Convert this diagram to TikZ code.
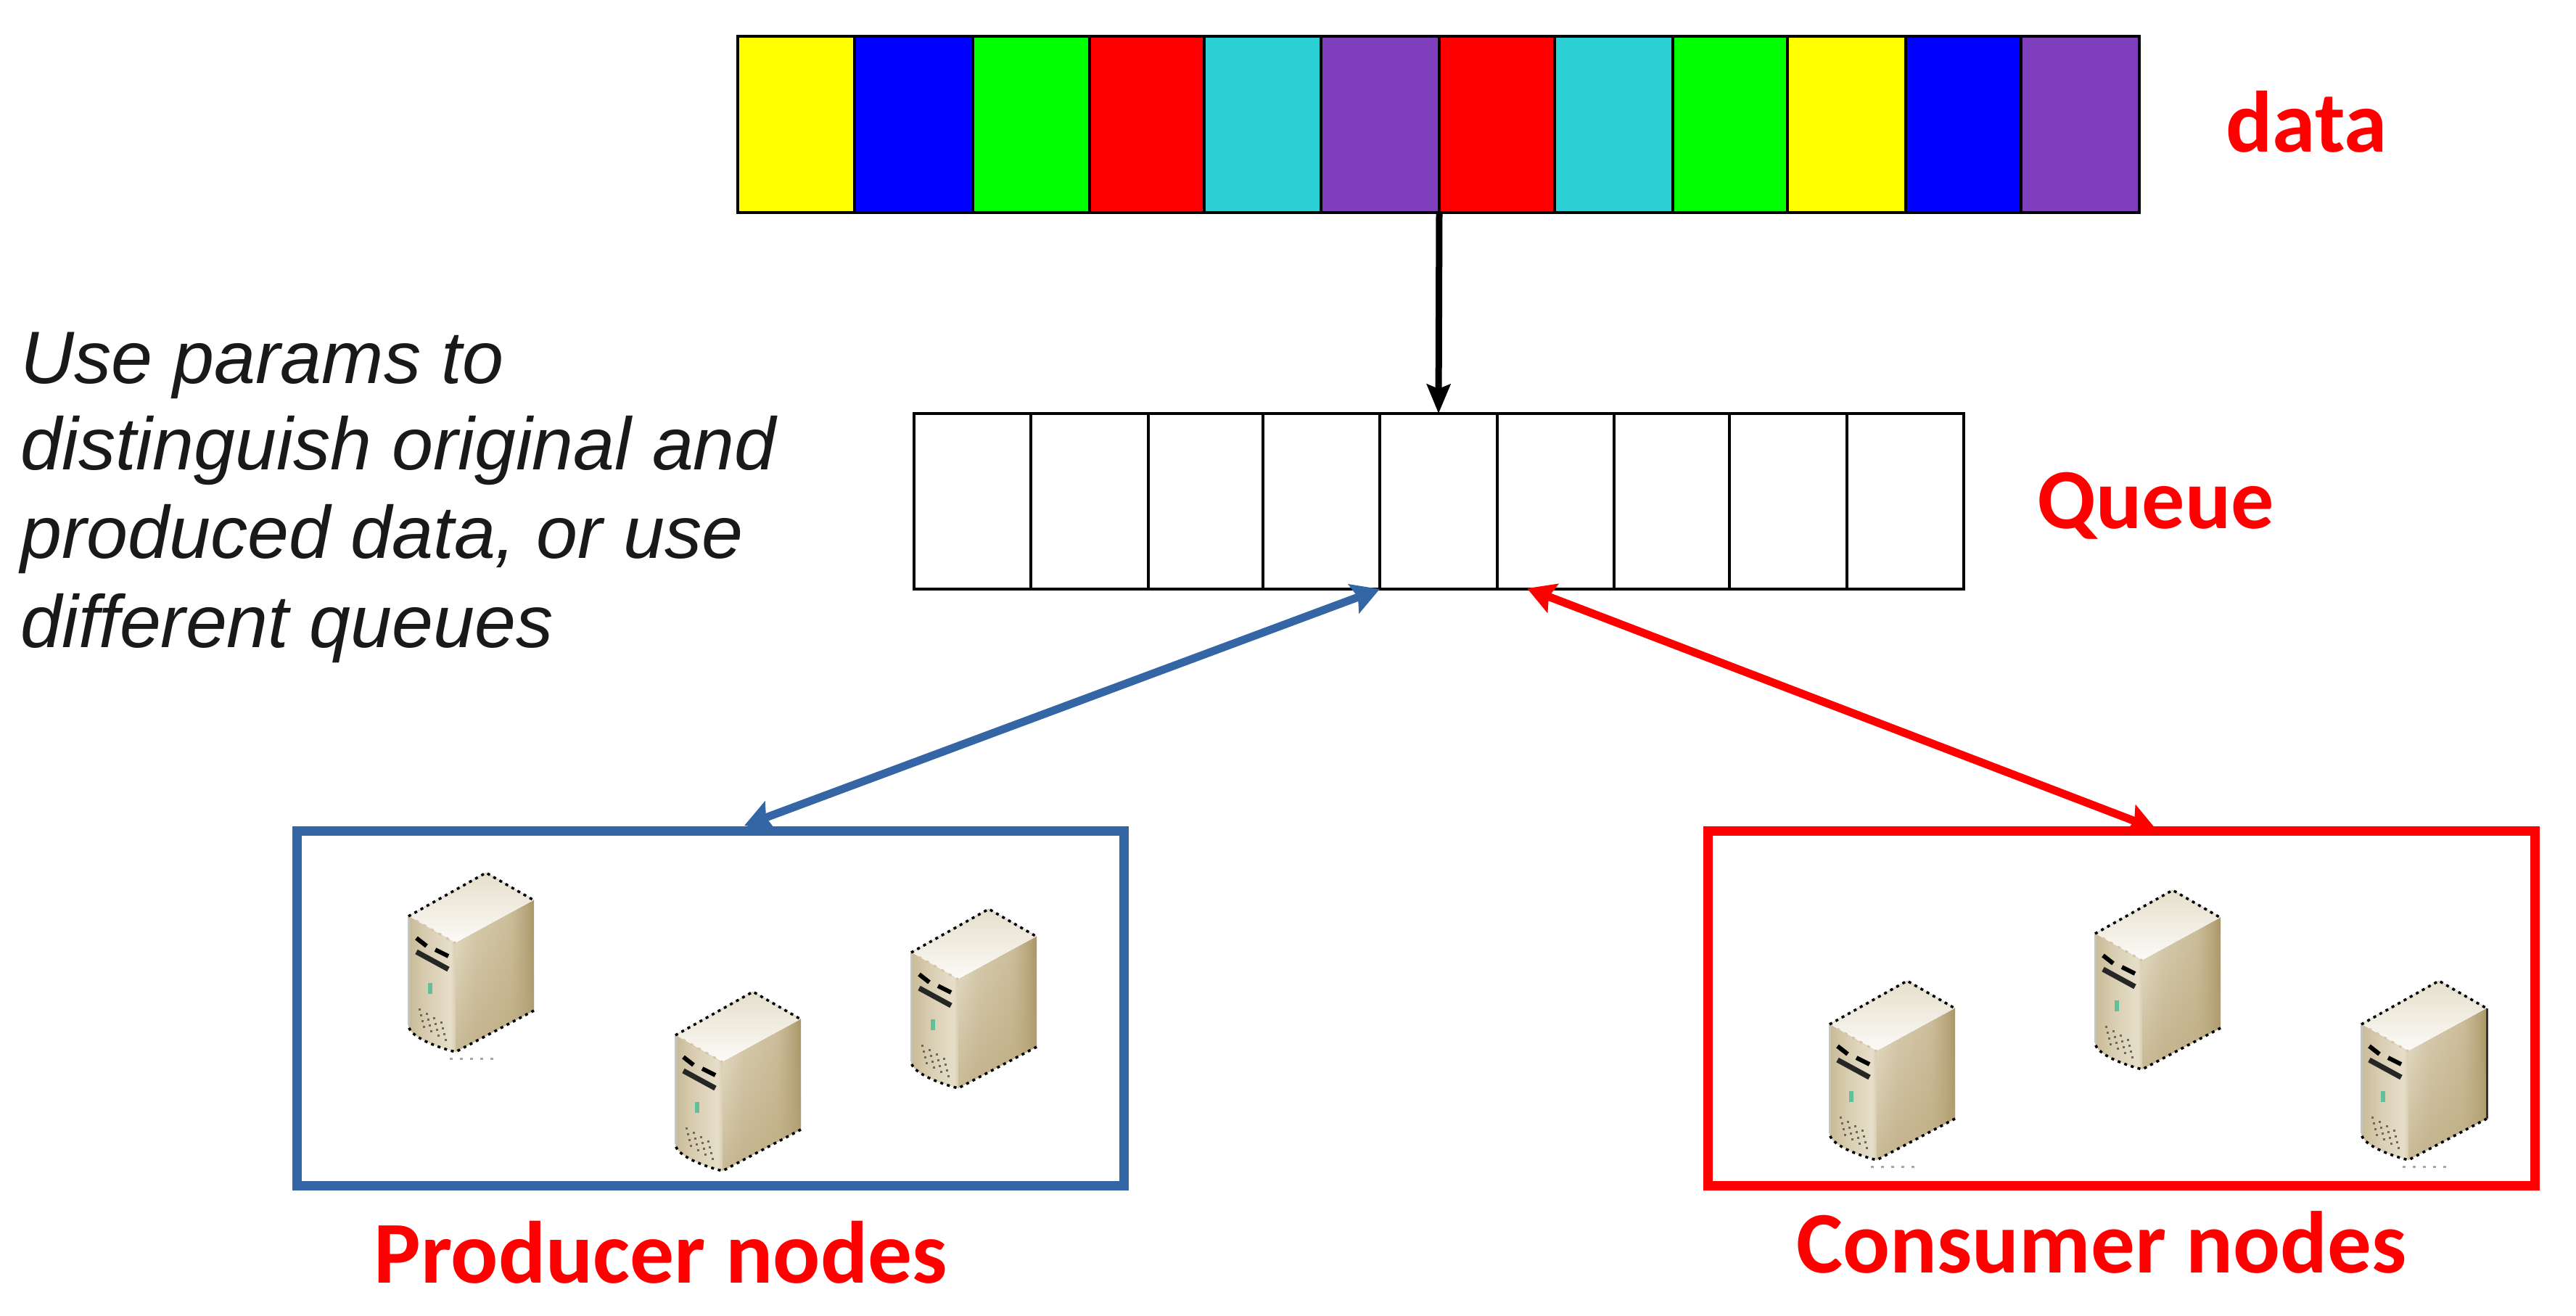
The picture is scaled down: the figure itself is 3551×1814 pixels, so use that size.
\documentclass[tikz,border=0pt]{standalone}
\usepackage{fontspec}
\setmainfont{Liberation Sans}
\newfontfamily\labelfont[BoldFont={Carlito Bold}]{Carlito}
\usetikzlibrary{arrows.meta,calc,fadings}
\definecolor{dyellow}{HTML}{FFFF00}
\definecolor{dblue}{HTML}{0000FF}
\definecolor{dgreen}{HTML}{00FF00}
\definecolor{dred}{HTML}{FF0000}
\definecolor{dcyan}{HTML}{2BD0D4}
\definecolor{dpurple}{HTML}{7F3FBC}
\definecolor{pblue}{HTML}{3465A4}
\definecolor{vent}{HTML}{6E6A58}
\definecolor{sa}{HTML}{E8E0CC}
\definecolor{sb}{HTML}{D8CDB0}
\definecolor{sc}{HTML}{CDBF9C}
\definecolor{sd}{HTML}{B8A67C}
\definecolor{se}{HTML}{A89668}
\definecolor{sf}{HTML}{C8BA96}
\definecolor{sg}{HTML}{D9CEB2}
\definecolor{sh}{HTML}{E6DECA}
\definecolor{topa}{HTML}{E6DFCC}
\definecolor{topb}{HTML}{FBFAF6}
\definecolor{edgegray}{HTML}{C4C4C4}
\definecolor{edgetan}{HTML}{D9C3A6}
\definecolor{led}{HTML}{5FC09A}
\definecolor{shadeover}{HTML}{B8A67A}
\pgfdeclarehorizontalshading{srvright}{100bp}{color(0bp)=(sa);color(25bp)=(sa);color(38bp)=(sb);color(60bp)=(sc);color(70bp)=(sd);color(75bp)=(se);color(100bp)=(se)}
\pgfdeclarehorizontalshading{srvfront}{100bp}{color(0bp)=(sf);color(25bp)=(sf);color(45bp)=(sg);color(70bp)=(sh);color(75bp)=(sb);color(100bp)=(sb)}
\tikzfading[name=lowdark,top color=transparent!100,bottom color=transparent!35]
\tikzset{
  x=.5pt,y=-.5pt,
  box/.style={draw=black,line width=1.75pt,inner sep=0pt,outer sep=0pt},
  frame/.style={draw,line width=6.5pt,inner sep=0pt,outer sep=0pt},
  redtext/.style={inner sep=0pt,anchor=base west,text=dred,font=\labelfont\bfseries\fontsize{#1}{60pt}\selectfont},
  note/.style={inner sep=0pt,anchor=base west,text=black!90,font=\itshape\fontsize{51.2pt}{60pt}\selectfont},
  link/.style={line width=5.5pt,{Stealth[length=19pt,width=21pt,inset=3pt]}-{Stealth[length=19pt,width=21pt,inset=3pt]}},
  dots/.style={draw=black,line width=1.75pt,dash pattern=on 2pt off 2.8pt},
  server/.pic={
    \fill[top color=topa,bottom color=topb] (-107,60) -- (0,0) -- (66,38) -- (-42,97) -- cycle;
    \shade[shading=srvfront] (-107,60) -- (-42,97) -- (-42,247) .. controls (-70,240) and (-107,225) .. (-107,210) -- cycle;
    \shade[shading=srvright] (-42,97) -- (66,38) -- (66,190) -- (-42,247) -- cycle;
    \fill[shadeover,path fading=lowdark,fit fading=true] (-42,97) -- (66,38) -- (66,190) -- (-42,247) -- cycle;
    \draw[edgegray,line width=1.5pt] (-107,60) -- (-107,210);
    \draw[edgetan,line width=1.5pt,dash pattern=on 2pt off 4pt] (-107,60) -- (-42,97);
    \draw[dots] (-107,60) -- (0,0) -- (66,38);
    \draw[dots] (66,190) -- (-42,247) .. controls (-70,240) and (-107,225) .. (-107,210);
    \draw[black,line width=3pt] (-96,90) -- (-82,101) (-70,106) -- (-52,115);
    \draw[black!85,line width=3.6pt] (-96,109) -- (-52,133);
    \fill[led] (-80,152) rectangle (-74,167);
    \foreach \i in {0,...,3}\foreach \j in {0,...,3}
      \fill[vent] ({-92+10*\i+2*\j-1.5},{188+6*\i+8*\j-1.5}) rectangle +(3,3);
  },
  foot/.pic={\draw[black!35,line width=1.5pt,dash pattern=on 2pt off 5pt] (-50,256) -- (17,256);},
}
\newcommand\rectnode[6]{\node[#6,minimum width={(#4-#2)*.5pt},minimum height={(#5-#3)*.5pt}] (#1) at ({(#2+#4)/2},{(#3+#5)/2}) {};}
\begin{document}
\begin{tikzpicture}
\useasboundingbox (0,0) rectangle (3551,1814);
% data strip
\foreach \n/\a/\b/\c in {1/1017/1178/dyellow,2/1178/1341/dblue,3/1341/1502/dgreen,4/1502/1660/dred,5/1660/1821/dcyan,6/1821/1984/dpurple,7/1984/2143/dred,8/2143/2306/dcyan,9/2306/2464/dgreen,10/2464/2627/dyellow,11/2627/2786/dblue,12/2786/2949/dpurple}
  {\rectnode{d\n}{\a}{50}{\b}{293}{box,fill=\c}}
% queue
\foreach \n/\a/\b in {1/1260/1421,2/1421/1583,3/1583/1741,4/1741/1902,5/1902/2064,6/2064/2225,7/2225/2384,8/2384/2546,9/2546/2707}
  {\rectnode{q\n}{\a}{570}{\b}{812}{box}}
% frames
\rectnode{producer}{409}{1145}{1549}{1634}{frame,pblue}
\rectnode{consumer}{2354}{1145}{3494}{1634}{frame,dred}
% servers
\pic (p1) at (670,1203) {server};
\pic (p1f) at (670,1203) {foot};
\pic (p2) at (1038,1367) {server};
\pic (p3) at (1363,1253) {server};
\pic (c1) at (2629,1352) {server};
\pic (c1f) at (2629,1352) {foot};
\pic (c2) at (2995,1227) {server};
\pic (c3) at (3362,1352) {server};
\pic (c3f) at (3362,1352) {foot};
\coordinate (c3a) at (3428,1390);
\coordinate (c3b) at (3428,1542);
\draw[black!80,line width=1.5pt] (c3a) -- (c3b);
% connectors
\coordinate (ptip) at (1026,1138);
\coordinate (ctip) at (2972,1143);
\coordinate (qr) at (2105,811);
\draw[line width=4.5pt,-{Stealth[length=20pt,width=16pt,inset=3pt]}] (d6.south east) -- (q5.north);
\draw[link,pblue] (q5.south west) -- (ptip);
\draw[link,dred] (qr) -- (ctip);
% labels
\node[redtext=60pt] (ldata) at (3068,209) {data};
\node[redtext=59pt] (lqueue) at (2808,728) {Queue};
\node[redtext=60.8pt] (lprod) at (515,1768) {Producer nodes};
\node[redtext=60.5pt] (lcons) at (2476,1754) {Consumer nodes};
\node[note] (n1) at (28,528) {Use params to};
\node[note] (n2) at (28,647) {distinguish original and};
\node[note] (n3) at (28,769) {produced data, or use};
\node[note] (n4) at (28,892) {different queues};
\end{tikzpicture}
\end{document}
